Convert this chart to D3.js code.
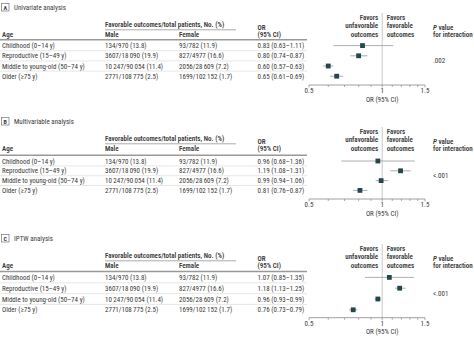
<!DOCTYPE html>
<html><head><meta charset="utf-8">
<script src="https://cdn.jsdelivr.net/npm/d3@7"></script>
<style>
html,body{margin:0;padding:0;background:#fff;}
svg{display:block;}
text{font-family:"Liberation Sans Narrow","Roboto Condensed","Open Sans",sans-serif;fill:#3a3a3a;}
</style></head><body>
<svg id="chart" width="474" height="337"></svg>
<script>
const ageGroups = ["Childhood (0\u201314 y)", "Reproductive (15\u201349 y)", "Middle to young-old (50\u201374 y)", "Older (\u226575 y)"];
const maleCounts = ["134/970 (13.8)", "3607/18\u2009090 (19.9)", "10\u2009247/90\u2009054 (11.4)", "2771/108\u2009775 (2.5)"];
const femaleCounts = ["93/782 (11.9)", "827/4977 (16.6)", "2056/28\u2009609 (7.2)", "1699/102\u2009152 (1.7)"];

const panelLetters = ["A", "B", "C"];
const panelTitles = ["Univariate analysis", "Multivariable analysis", "IPTW analysis"];
const orA = [0.83, 0.80, 0.60, 0.65], loA = [0.63, 0.74, 0.57, 0.61], hiA = [1.11, 0.87, 0.63, 0.69];
const orB = [0.96, 1.19, 0.99, 0.81], loB = [0.68, 1.08, 0.94, 0.76], hiB = [1.36, 1.31, 1.06, 0.87];
const orC = [1.07, 1.18, 0.96, 0.76], loC = [0.85, 1.13, 0.93, 0.73], hiC = [1.35, 1.25, 0.99, 0.79];
const pValues = [".002", "<.001", "<.001"];
const majorTicks = [0.5, 1, 1.5];
const minorTicks = [0.6, 0.7, 0.8, 0.9, 1.1, 1.2, 1.3, 1.4];
const tickLabels = ["0.5", "1", "1.5"];

const ors = [orA, orB, orC], los = [loA, loB, loC], his = [hiA, hiB, hiC];
const panelTop = [0, 114, 231];
const rowStart = [45.6, 47, 46.4];
const rowStep = [10.2, 9.8, 10.8];
const axisY = [85, 85, 86.7];

const svg = d3.select("#chart");
const x = d3.scaleLog().domain([0.5, 1.5]).range([309, 425]);
const fmt = d3.format(".2f");
const FS = 7;

panelLetters.forEach((L, p) => {
  const g = svg.append("g").attr("transform", `translate(0,${panelTop[p]})`);
  // title
  g.append("rect").attr("x", 1.5).attr("y", 3.5).attr("width", 7.5).attr("height", 7.5)
    .attr("fill", "#fff").attr("stroke", "#777").attr("stroke-width", 0.7);
  g.append("text").attr("x", 5.25).attr("y", 9.6).attr("text-anchor", "middle")
    .attr("font-size", 6).attr("font-weight", 700).text(L);
  g.append("text").attr("x", 14).attr("y", 9.8).attr("font-size", FS).text(panelTitles[p]);

  // headers
  g.append("text").attr("x", 105).attr("y", 27.4).attr("font-size", FS).attr("font-weight", 600)
    .text("Favorable outcomes/total patients, No. (%)");
  g.append("line").attr("x1", 105).attr("x2", 236).attr("y1", 29.8).attr("y2", 29.8)
    .attr("stroke", "#888").attr("stroke-width", 0.7);
  g.append("text").attr("x", 2).attr("y", 37.3).attr("font-size", FS).attr("font-weight", 600).text("Age");
  g.append("text").attr("x", 105).attr("y", 37.3).attr("font-size", FS).attr("font-weight", 600).text("Male");
  g.append("text").attr("x", 179).attr("y", 37.3).attr("font-size", FS).attr("font-weight", 600).text("Female");
  g.append("text").attr("x", 257.5).attr("y", 29.8).attr("font-size", FS).attr("font-weight", 600).text("OR");
  g.append("text").attr("x", 257.5).attr("y", 37.3).attr("font-size", FS).attr("font-weight", 600).text("(95% CI)");
  const lineY = rowStart[p] - 5.8;
  g.append("line").attr("x1", 0).attr("x2", 307).attr("y1", lineY).attr("y2", lineY)
    .attr("stroke", "#999").attr("stroke-width", 1.5);

  // favors
  const fav = [["Favors", "unfavorable", "outcomes"], ["Favors", "favorable", "outcomes"]];
  fav[0].forEach((t, i) => g.append("text").attr("x", x(1) - 4).attr("y", 19.5 + i * 8.6)
    .attr("text-anchor", "end").attr("font-size", FS).attr("font-weight", 600).text(t));
  fav[1].forEach((t, i) => g.append("text").attr("x", x(1) + 4.5).attr("y", 19.5 + i * 8.6)
    .attr("font-size", FS).attr("font-weight", 600).text(t));

  // P value header
  const ph = g.append("text").attr("x", 433).attr("y", 29.8).attr("font-size", FS).attr("font-weight", 600);
  ph.append("tspan").attr("font-style", "italic").text("P");
  ph.append("tspan").text(" value");
  g.append("text").attr("x", 433).attr("y", 37.3).attr("font-size", FS).attr("font-weight", 600).text("for interaction");

  // reference line
  g.append("line").attr("x1", x(1)).attr("x2", x(1)).attr("y1", 13).attr("y2", axisY[p])
    .attr("stroke", "#bbb").attr("stroke-width", 0.8);

  const rowY = i => rowStart[p] + i * rowStep[p];

  // rows
  ageGroups.forEach((a, i) => {
    const y = rowY(i);
    if (i > 0) {
      g.append("line").attr("x1", 0).attr("x2", 307).attr("y1", y - rowStep[p] / 2).attr("y2", y - rowStep[p] / 2)
        .attr("stroke", "#ddd").attr("stroke-width", 0.7);
    }
    g.append("text").attr("x", 2).attr("y", y + 2.5).attr("font-size", FS).text(a);
    g.append("text").attr("x", 105).attr("y", y + 2.5).attr("font-size", FS).text(maleCounts[i]);
    g.append("text").attr("x", 179).attr("y", y + 2.5).attr("font-size", FS).text(femaleCounts[i]);
    g.append("text").attr("x", 257.5).attr("y", y + 2.5).attr("font-size", FS)
      .text(`${fmt(ors[p][i])} (${fmt(los[p][i])}\u2013${fmt(his[p][i])})`);
    // CI
    g.append("line").attr("x1", x(los[p][i])).attr("x2", x(his[p][i])).attr("y1", y).attr("y2", y)
      .attr("stroke", "#999").attr("stroke-width", 0.8);
    g.append("rect").attr("x", x(ors[p][i]) - 2.4).attr("y", y - 2.4).attr("width", 4.8).attr("height", 4.8)
      .attr("fill", "#24474d");
  });

  // p value
  g.append("text").attr("x", 433).attr("y", (rowY(1) + rowY(2)) / 2 + 2.5).attr("font-size", FS).text(pValues[p]);

  // axis
  const ax = g.append("g").attr("transform", `translate(0,${axisY[p]})`);
  ax.append("line").attr("x1", x(0.5)).attr("x2", x(1.5)).attr("stroke", "#888").attr("stroke-width", 0.8);
  minorTicks.forEach(t => ax.append("line").attr("x1", x(t)).attr("x2", x(t)).attr("y1", 0).attr("y2", 2)
    .attr("stroke", "#888").attr("stroke-width", 0.7));
  majorTicks.forEach((t, i) => {
    ax.append("line").attr("x1", x(t)).attr("x2", x(t)).attr("y1", 0).attr("y2", 2.5)
      .attr("stroke", "#888").attr("stroke-width", 0.7);
    ax.append("text").attr("x", x(t)).attr("y", 8.2).attr("text-anchor", "middle").attr("font-size", FS).text(tickLabels[i]);
  });
  ax.append("text").attr("x", x(1)).attr("y", 16.6).attr("text-anchor", "middle").attr("font-size", FS).text("OR (95% CI)");
});
</script>
</body></html>
